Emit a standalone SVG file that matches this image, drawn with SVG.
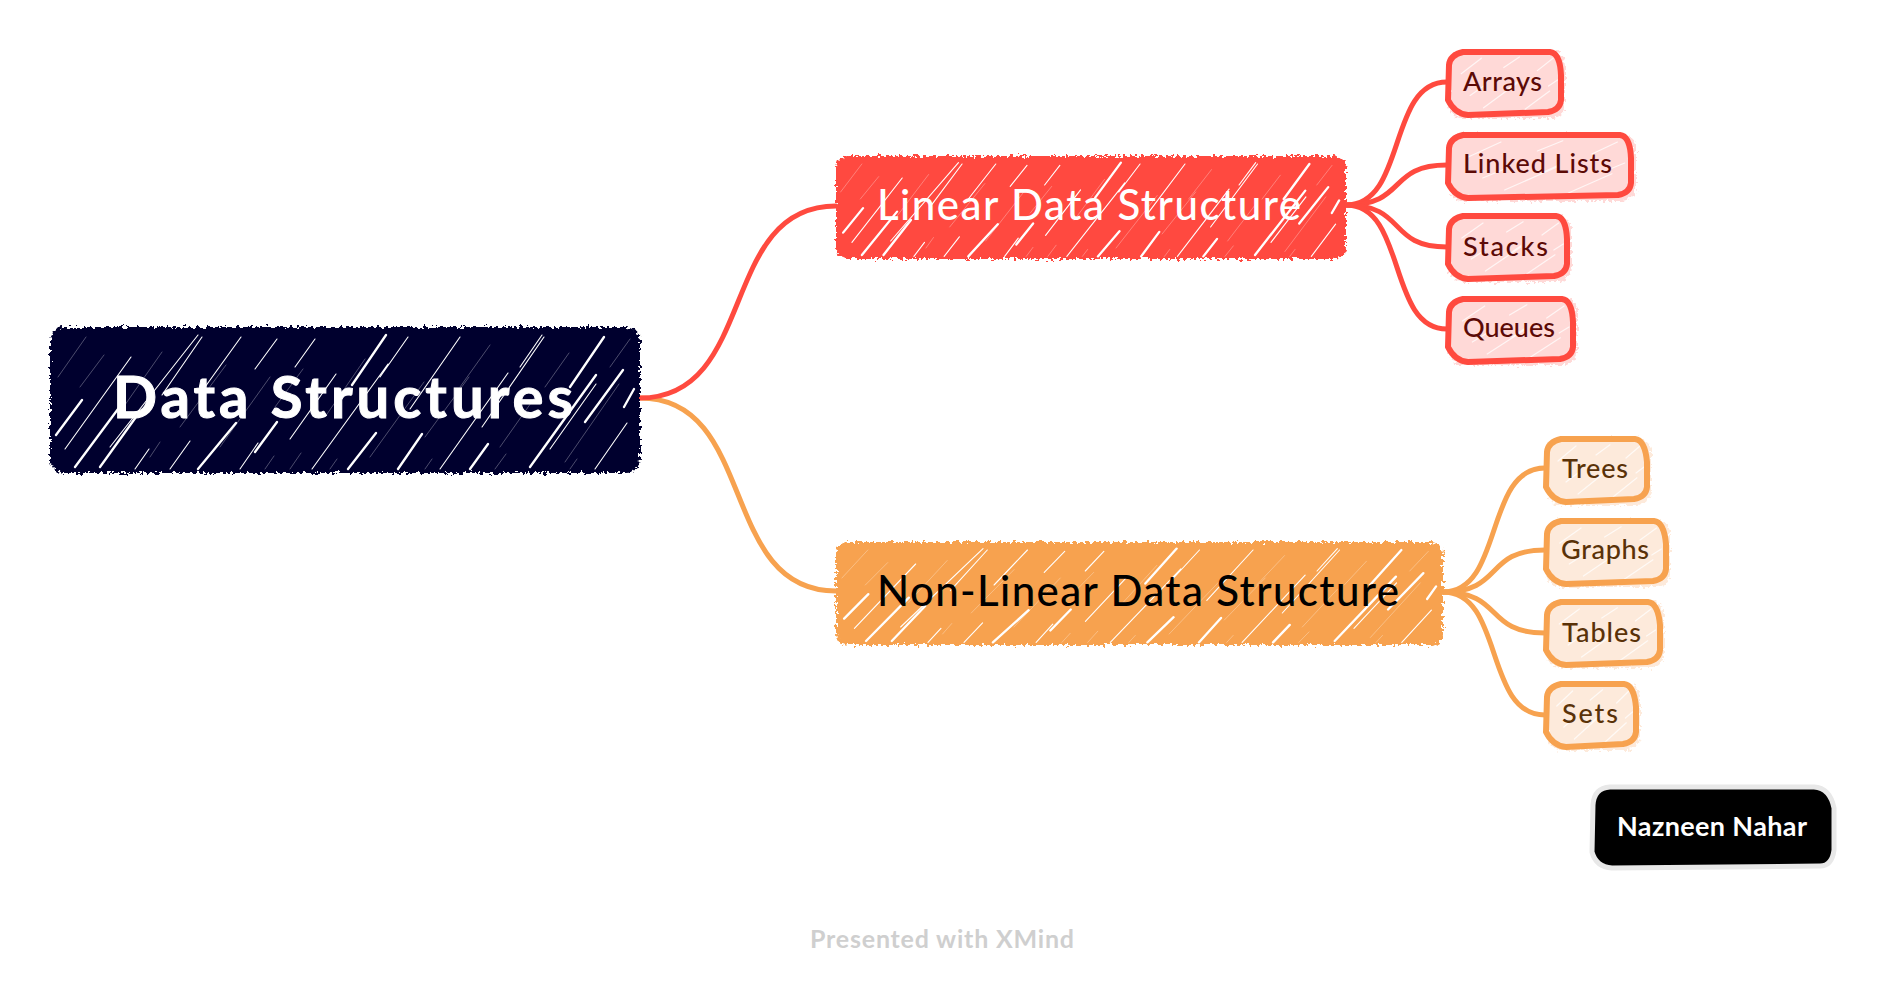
<svg xmlns="http://www.w3.org/2000/svg" width="1884" height="990" viewBox="0 0 1884 990">
<style>
text{font-family:"Lato","Noto Sans","Liberation Sans",sans-serif}
.c{fill:none;stroke-linecap:round;stroke-width:5}
.r{stroke:#ff4a3f}.o{stroke:#f7a24f}
.h{fill:none;stroke:#fff;stroke-linecap:round;vector-effect:non-scaling-stroke}
.h1{stroke-width:2.3}.h2{stroke-width:1.1}.h3{stroke-width:.5;opacity:.6}
.lh{fill:none;stroke:#fff;stroke-width:1.2;opacity:.75;stroke-linecap:round;vector-effect:non-scaling-stroke}
.ls{fill:none;stroke-width:6;stroke-linejoin:round}
.lr{font-size:27px;fill:#5c0a06;font-weight:500}
.lo{font-size:27px;fill:#5a3208;font-weight:500}
.rp{fill:#ffd9d7}.op{fill:#fdeadb}
</style>
<defs>
<filter id="rough" x="-5%" y="-10%" width="110%" height="120%"><feTurbulence type="fractalNoise" baseFrequency="0.3" numOctaves="2" seed="4"/><feDisplacementMap in="SourceGraphic" scale="9" xChannelSelector="R" yChannelSelector="G"/></filter>
<g id="hatch">
<path class="h h1" d="M6 108l26-35M25 140l46-62M50 140l36-50M148 142l38-46M205 125l22-30M302 58l34-50M298 142l28-36M348 142l24-35M420 142l18-25M480 140l66-92M535 95l38-52M520 60l34-50M574 80l10-18"/>
<path class="h h2" d="M15 122l66-92M60 120l88-112M112 68l40-58M155 60l36-50M205 42l22-30M240 112l46-65M262 142l76-105M330 50l28-40M360 82l50-72M432 100l62-90M390 142l68-96M500 122l46-65M545 142l32-46M190 142l18-26M120 142l20-28M85 142l14-20M245 40l20-28M470 40l22-32"/>
<path class="h h3" d="M8 50l28-40M30 60l24-32M70 85l42-60M130 100l46-62M170 120l50-70M225 80l28-38M275 90l40-58M320 130l54-75M375 110l44-60M410 60l30-42M450 120l38-54M495 60l24-34M515 135l54-78M560 40l20-28M100 130l10-15M215 142l9-13M240 142l11-16M280 142l7-10M375 142l7-10M445 142l11-15M520 142l7-10"/>
</g>
<path id="lhatch" class="lh" d="M10 35l18-25M30 90l30-40M48 25l14-17M65 95l24-32M78 30l14-20M18 70l12-15M50 62l10-14M88 55l8-10"/>
</defs>

<g id="connectors">
<path class="c o" d="M640 398C758 398 718 591 836 591"/>
<path class="c r" d="M640 398C758 398 718 206 836 206"/>
<path class="c r" d="M1346 205C1407 205 1387 82 1447 82"/>
<path class="c r" d="M1346 205C1407 205 1387 165 1447 165"/>
<path class="c r" d="M1346 205C1407 205 1387 247 1447 247"/>
<path class="c r" d="M1346 205C1407 205 1387 329 1447 329"/>
<path class="c o" d="M1443 592C1504 592 1484 468 1545 468"/>
<path class="c o" d="M1443 592C1504 592 1484 550 1545 550"/>
<path class="c o" d="M1443 592C1504 592 1484 633 1545 633"/>
<path class="c o" d="M1443 592C1504 592 1484 715 1545 715"/>
</g>

<g id="root">
<rect x="50" y="327" width="590" height="146" rx="14" fill="#02022e" filter="url(#rough)"/>
<use href="#hatch" transform="translate(50 327) scale(1 1)"/>
<text x="113" y="418" font-size="58" font-weight="700" fill="#fff" stroke="#fff" stroke-width="1" textLength="460">Data Structures</text>
</g>

<g id="linear">
<rect x="836" y="156" width="510" height="103" rx="12" fill="#ff4a3f" filter="url(#rough)"/>
<use href="#hatch" transform="translate(830 157) skewX(6) scale(.864 .7)"/>
<text x="877" y="220" font-size="42" font-weight="500" fill="#fff" textLength="424">Linear Data Structure</text>
</g>

<g id="nonlinear">
<rect x="836" y="542" width="607" height="103" rx="12" fill="#f7a24f" filter="url(#rough)"/>
<use href="#hatch" transform="translate(830 543) skewX(6) scale(1.03 .7)"/>
<text x="877" y="606" font-size="42" font-weight="500" fill="#000" textLength="522">Non-Linear Data Structure</text>
</g>

<g id="arrays">
<rect class="rp" x="1449" y="51" width="116" height="67" rx="14" filter="url(#rough)"/>
<use href="#lhatch" transform="translate(1450 52) scale(1.12 .62)"/>
<path class="ls r" d="M1449 65Q1450 55 1463 52L1550 52Q1560 53 1561 75L1561 100Q1560 110 1548 112L1468 115Q1455 114 1448 100Z"/>
<text class="lr" x="1463" y="91" textLength="79">Arrays</text>
</g>
<g id="linkedlists">
<rect class="rp" x="1449" y="134" width="187" height="67" rx="14" filter="url(#rough)"/>
<use href="#lhatch" transform="translate(1450 136) scale(1.82 .6)"/>
<path class="ls r" d="M1449 148Q1450 138 1463 135L1620 135Q1630 136 1631 158L1631 183Q1630 193 1618 195L1468 198Q1455 197 1448 183Z"/>
<text class="lr" x="1463" y="173" textLength="149">Linked Lists</text>
</g>
<g id="stacks">
<rect class="rp" x="1449" y="215" width="122" height="67" rx="14" filter="url(#rough)"/>
<use href="#lhatch" transform="translate(1450 217) scale(1.18 .6)"/>
<path class="ls r" d="M1449 229Q1450 219 1463 216L1556 216Q1566 217 1567 239L1567 264Q1566 274 1554 276L1468 279Q1455 278 1448 264Z"/>
<text class="lr" x="1463" y="256" textLength="85">Stacks</text>
</g>
<g id="queues">
<rect class="rp" x="1449" y="298" width="128" height="67" rx="14" filter="url(#rough)"/>
<use href="#lhatch" transform="translate(1450 300) scale(1.24 .6)"/>
<path class="ls r" d="M1449 312Q1450 302 1463 299L1562 299Q1572 300 1573 322L1573 347Q1572 357 1560 359L1468 362Q1455 361 1448 347Z"/>
<text class="lr" x="1463" y="337" textLength="92">Queues</text>
</g>

<g id="trees">
<rect class="op" x="1547" y="438" width="104" height="67" rx="14" filter="url(#rough)"/>
<use href="#lhatch" transform="translate(1548 440) scale(1 .6)"/>
<path class="ls o" d="M1547 452Q1548 442 1561 439L1635 439Q1645 440 1647 462L1647 487Q1646 497 1634 499L1566 502Q1553 501 1546 487Z"/>
<text class="lo" x="1562" y="478" textLength="66">Trees</text>
</g>
<g id="graphs">
<rect class="op" x="1547" y="520" width="123" height="67" rx="14" filter="url(#rough)"/>
<use href="#lhatch" transform="translate(1548 522) scale(1.18 .6)"/>
<path class="ls o" d="M1547 534Q1548 524 1561 521L1654 521Q1664 522 1666 544L1666 569Q1665 579 1653 581L1566 584Q1553 583 1546 569Z"/>
<text class="lo" x="1561" y="559" textLength="88">Graphs</text>
</g>
<g id="tables">
<rect class="op" x="1547" y="601" width="117" height="67" rx="14" filter="url(#rough)"/>
<use href="#lhatch" transform="translate(1548 603) scale(1.12 .6)"/>
<path class="ls o" d="M1547 615Q1548 605 1561 602L1648 602Q1658 603 1660 625L1660 650Q1659 660 1647 662L1566 665Q1553 664 1546 650Z"/>
<text class="lo" x="1562" y="642" textLength="79">Tables</text>
</g>
<g id="sets">
<rect class="op" x="1547" y="683" width="93" height="67" rx="14" filter="url(#rough)"/>
<use href="#lhatch" transform="translate(1548 685) scale(.88 .6)"/>
<path class="ls o" d="M1547 697Q1548 687 1561 684L1624 684Q1634 685 1636 707L1636 732Q1635 742 1623 744L1566 747Q1553 746 1546 732Z"/>
<text class="lo" x="1562" y="723" textLength="56">Sets</text>
</g>

<g id="author">
<path fill="#000" stroke="#e8e8e8" stroke-width="5" stroke-linejoin="round" d="M1593 805Q1594 788 1610 787L1814 787Q1830 788 1834 808L1834 850Q1832 866 1820 866L1612 868Q1596 867 1592 852Z"/>
<text x="1617" y="836" font-size="27" font-weight="700" fill="#fff" textLength="190">Nazneen Nahar</text>
</g>
<text id="watermark" x="810" y="948" font-size="25" font-weight="700" fill="#cfcfcf" textLength="264">Presented with XMind</text>
</svg>
